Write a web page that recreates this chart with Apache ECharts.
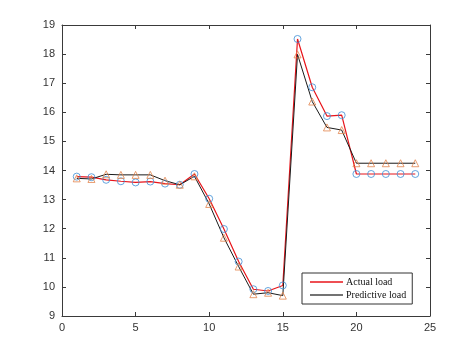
<!DOCTYPE html>
<html><head><meta charset="utf-8">
<script src="https://cdn.jsdelivr.net/npm/echarts@6/dist/echarts.min.js"></script>
<style>html,body{margin:0;padding:0;background:#fff}#c{width:474px;height:355px}</style>
</head><body><div id="c"></div>
<script>
const hours = [1,2,3,4,5,6,7,8,9,10,11,12,13,14,15,16,17,18,19,20,21,22,23,24];
const actualLoad = [13.79,13.77,13.68,13.63,13.59,13.62,13.55,13.51,13.88,13.03,11.99,10.87,9.92,9.86,10.05,18.52,16.86,15.87,15.90,13.88,13.88,13.88,13.88,13.88];
const predictiveLoad = [13.73,13.71,13.87,13.85,13.85,13.85,13.65,13.51,13.80,12.85,11.69,10.70,9.75,9.80,9.70,17.99,16.37,15.48,15.39,14.25,14.25,14.25,14.25,14.25];
const xTicks = {min:0,max:25,interval:5};
const yTicks = {min:9,max:19,interval:1};

const pair = (ys) => hours.map((h,i)=>[h,ys[i]]);
const axisCol = '#3a3a3a';
const labelStyle = {color:'#333', fontFamily:'Liberation Sans, Arial', fontSize:11};
const chart = echarts.init(document.getElementById('c'));
chart.setOption({
  animation:false,
  grid:{left:62,right:44,top:25,bottom:39},
  xAxis:[
    {type:'value',min:xTicks.min,max:xTicks.max,interval:xTicks.interval,position:'bottom',
     axisLine:{onZero:false,lineStyle:{color:axisCol,width:1}},axisTick:{inside:true,length:4,lineStyle:{color:axisCol}},
     axisLabel:Object.assign({margin:6},labelStyle),splitLine:{show:false}},
    {type:'value',min:xTicks.min,max:xTicks.max,interval:xTicks.interval,position:'top',
     axisLine:{onZero:false,lineStyle:{color:axisCol,width:1}},axisTick:{inside:true,length:4,lineStyle:{color:axisCol}},
     axisLabel:{show:false},splitLine:{show:false}}
  ],
  yAxis:[
    {type:'value',min:yTicks.min,max:yTicks.max,interval:yTicks.interval,position:'left',
     axisLine:{onZero:false,show:true,lineStyle:{color:axisCol,width:1}},axisTick:{show:true,inside:true,length:4,lineStyle:{color:axisCol}},
     axisLabel:Object.assign({margin:7},labelStyle),splitLine:{show:false}},
    {type:'value',min:yTicks.min,max:yTicks.max,interval:yTicks.interval,position:'right',
     axisLine:{onZero:false,show:true,lineStyle:{color:axisCol,width:1}},axisTick:{show:true,inside:true,length:4,lineStyle:{color:axisCol}},
     axisLabel:{show:false},splitLine:{show:false}}
  ],
  legend:{
    data:[{name:'Actual load'},{name:'Predictive load'}],
    orient:'vertical',left:302,top:273,
    icon:'rect',itemWidth:33,itemHeight:1.5,itemGap:3,
    padding:[4,6,4,8],
    backgroundColor:'#fff',borderColor:'#333',borderWidth:1,
    textStyle:{fontFamily:'Liberation Serif, Times New Roman',fontSize:10,color:'#111',padding:[0,0,0,-2]}
  },
  series:[
    {name:'Actual load',type:'line',data:pair(actualLoad),showSymbol:false,symbol:'none',
     lineStyle:{color:'#e8141a',width:1.2},itemStyle:{color:'#e8141a'},z:2},
    {name:'Predictive load',type:'line',data:pair(predictiveLoad),showSymbol:false,symbol:'none',
     lineStyle:{color:'#1a1a1a',width:1},itemStyle:{color:'#444'},z:3},
    {name:'actualMarks',type:'scatter',data:pair(actualLoad),symbol:'circle',symbolSize:7,
     itemStyle:{color:'rgba(0,0,0,0)',borderColor:'#3f8fd6',borderWidth:1},z:4},
    {name:'predMarks',type:'scatter',data:pair(predictiveLoad),symbol:'triangle',symbolSize:7,
     itemStyle:{color:'rgba(0,0,0,0)',borderColor:'#e2844e',borderWidth:1},z:4}
  ]
});
</script></body></html>
